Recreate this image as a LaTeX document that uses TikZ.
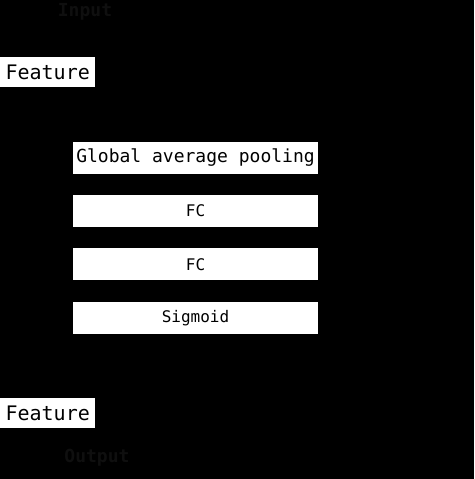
\documentclass[tikz,border=0pt]{standalone}
\usepackage{fontspec}
\setmainfont{DejaVu Sans Mono}
\usetikzlibrary{positioning}
\tikzset{
  layer/.style={fill=white, minimum width=245pt, minimum height=32pt, inner sep=0pt, font=\fontsize{16}{18}\selectfont},
  feat/.style={fill=white, anchor=north west, minimum width=95pt, minimum height=30pt, inner sep=0pt, font=\fontsize{20}{22}\selectfont},
  faint/.style={text=black!94, font=\bfseries\fontsize{18}{20}\selectfont}
}
\begin{document}
\begin{tikzpicture}[x=1pt,y=-1pt]
  \fill[black] (0,0) rectangle (474,479);
  \useasboundingbox (0,0) rectangle (474,479);
  \node[faint] (in) at (85,12) {Input};
  \node[feat] (fin) at (0,57) {Feature};
  \node[layer, font=\fontsize{18}{20}\selectfont] (gap) at (195.5,157.5) {Global average pooling};
  \node[layer, below=21pt of gap] (fc1) {FC};
  \node[layer, below=21pt of fc1] (fc2) {FC};
  \node[layer, below=21pt of fc2] (sig) {Sigmoid};
  \node[feat] (fout) at (0,398) {Feature};
  \node[faint] (out) at (97,458) {Output};
\end{tikzpicture}
\end{document}
